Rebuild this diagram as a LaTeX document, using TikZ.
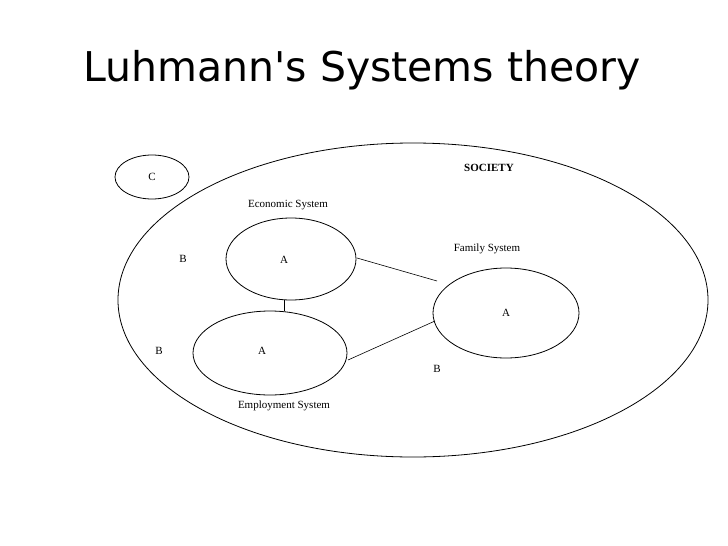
\documentclass[tikz,border=0pt]{standalone}
\usepackage{fontspec}
\setmainfont{Liberation Serif}
\newfontfamily\titlefont{DejaVu Sans}
\begin{document}
\begin{tikzpicture}[x=1pt,y=-1pt,
  sys/.style={draw,ellipse,line width=0.8pt},
  lbl/.style={font=\fontsize{11}{13}\selectfont}]
\useasboundingbox (0,0) rectangle (728,546);
\node[font=\titlefont\fontsize{41}{46}\selectfont,inner sep=0pt] (title) at (362,70) {Luhmann's Systems theory};
\draw[line width=0.8pt] (413,300) ellipse [x radius=295, y radius=157];
\coordinate (soc) at (413,300);
\draw[line width=0.8pt] (152,177) ellipse [x radius=37, y radius=22];
\draw[line width=0.8pt] (291,259) ellipse [x radius=65, y radius=41];
\draw[line width=0.8pt] (270,353) ellipse [x radius=77, y radius=42];
\draw[line width=0.8pt] (506,313) ellipse [x radius=73, y radius=45];
\coordinate (e1) at (357,258);
\coordinate (f1) at (437,281);
\coordinate (m1) at (348,360);
\coordinate (f2) at (435,321);
\coordinate (e2) at (284,300);
\coordinate (m2) at (284,311);
\draw[line width=0.6pt] (e1) -- (f1);
\draw[line width=0.6pt] (m1) -- (f2);
\draw[line width=0.6pt] (e2) -- (m2);
\node[lbl,font=\bfseries\fontsize{11}{13}\selectfont] (society) at (489,168) {SOCIETY};
\node[lbl] (econ) at (288,205) {Economic System};
\node[lbl] (fam) at (487,249) {Family System};
\node[lbl] (emp) at (284,406) {Employment System};
\node[lbl] (c) at (152,177) {C};
\node[lbl] (b1) at (183,259) {B};
\node[lbl] (b2) at (159,351) {B};
\node[lbl] (b3) at (437,369) {B};
\node[lbl] (a1) at (284,260) {A};
\node[lbl] (a2) at (262,351) {A};
\node[lbl] (a3) at (506,313) {A};
\end{tikzpicture}
\end{document}
